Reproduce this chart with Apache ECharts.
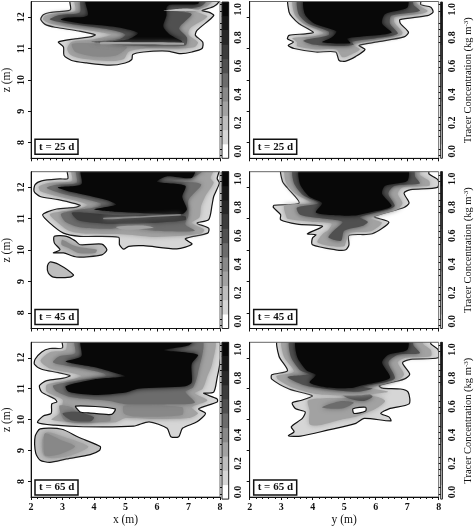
<!DOCTYPE html>
<html>
<head>
<meta charset="utf-8">
<script src="https://cdn.jsdelivr.net/npm/echarts@6/dist/echarts.min.js"></script>
<style>
  html, body { margin: 0; padding: 0; background: #fff; }
  #main { width: 474px; height: 527px; }
</style>
</head>
<body>
<div id="main"></div>
<script>
// colour bar
const levels = ['0.0', '0.1', '0.2', '0.3', '0.4', '0.5', '0.6', '0.7', '0.8', '0.9', '1.0'];
const levelColors = ['#ffffff', '#d6d6d6', '#bebebe', '#a2a2a2', '#888888', '#6c6c6c', '#505050', '#3c3c3c', '#282828', '#181818', '#080808'];

const zTicks = [8, 9, 10, 11, 12];
const zMinor = [7.6, 7.8, 8.2, 8.4, 8.6, 8.8, 9.2, 9.4, 9.6, 9.8, 10.2, 10.4, 10.6, 10.8, 11.2, 11.4, 11.6, 11.8, 12.2, 12.4];
const times = ['t = 25 d', 't = 45 d', 't = 65 d'];

// contour rings, [x or y (m), z (m)]
// panel A: x-z, t = 25 d
const a1 = [[3.26,12.6],[3.26,12.26],[3.19,12.21],[2.6,12.15],[2.39,12.08],[2.31,11.93],[2.45,11.77],[2.76,11.68],[3.51,11.56],[4.04,11.44],[3.88,11.37],[3.4,11.31],[2.87,11.21],[3.03,11.05],[3.05,10.78],[3.29,10.62],[3.77,10.54],[4.51,10.47],[4.99,10.54],[5.2,10.65],[5.23,10.81],[5.57,10.89],[6.32,10.92],[6.74,10.84],[7.11,10.89],[7.43,11],[7.45,11.21],[7.22,11.42],[7.27,11.58],[7.8,12.05],[7.64,12.16],[7.43,12.21],[7.8,12.34],[7.96,12.48],[7.96,12.6]];
const a2 = [[3.4,12.6],[3.4,12.2],[2.75,12.12],[2.45,12.05],[2.38,11.93],[2.6,11.8],[3.2,11.68],[4.2,11.52],[4.55,11.44],[4,11.3],[3.3,11.22],[3.15,11],[3.25,10.8],[3.6,10.68],[4.5,10.6],[4.95,10.67],[5.1,10.9],[5.6,11],[6.6,11],[7.2,11.05],[7.3,11.2],[7,11.45],[7.05,11.65],[7.6,12.02],[7.2,12.2],[7.6,12.35],[7.8,12.6]];
const a7 = [[3.3,11.15],[3.4,10.9],[4,10.75],[4.7,10.78],[5.05,11.05],[4.2,11.15]];
const a3 = [[3.6,12.6],[3.55,12.15],[2.9,12.07],[2.6,11.93],[3.2,11.8],[4.4,11.62],[5,11.45],[4.8,11.3],[3.9,11.22],[4.2,11.18],[5,11.1],[6.9,11.1],[6.95,11.35],[6.7,11.65],[7.1,12.1],[6.5,12.2],[7.4,12.35],[7.6,12.6]];
const a4 = [[3.75,12.6],[3.8,12.05],[3.1,11.98],[2.95,11.92],[3.6,11.8],[4.6,11.7],[5.4,11.5],[5.1,11.3],[4.4,11.22],[6,11.2],[6.8,11.22],[6.4,11.45],[6.2,11.7],[6.3,12.05],[6.3,12.3],[6.4,12.4],[7.3,12.42],[7.3,12.6]];
const a5 = [[4.2,11.14],[5.5,11.14],[6.85,11.12],[6.85,11.18],[5.5,11.2],[4.2,11.2]];
const a6 = [[6.2,12.21],[6.9,12.19],[7.4,12.21],[6.9,12.28]];
const panelA = [[1, a1, true], [3, a2], [4, a7], [6, a3], [10, a4], [3, a5], [2, a6]];

// panel B: y-z, t = 25 d
const b1 = [[3.25,12.6],[3.25,12.16],[3.35,12],[3.57,11.79],[4.02,11.52],[3.78,11.47],[3.25,11.42],[3.2,11.31],[3.39,11.21],[3.22,11.1],[3.41,11],[4.1,10.89],[4.73,10.89],[4.84,10.62],[5.05,10.6],[5.37,10.75],[5.66,10.97],[5.47,11.1],[6.05,11.21],[6.9,11.37],[7.04,11.52],[6.79,11.79],[6.77,11.92],[7.64,12.05],[7.82,12.16],[7.75,12.32],[7.43,12.4],[7.43,12.6]];
const b2 = [[3.4,12.6],[3.42,12.1],[3.7,11.8],[4.35,11.5],[4,11.38],[3.35,11.33],[3.5,11.2],[3.5,11.07],[4.1,10.97],[4.75,10.97],[4.95,10.72],[5.3,10.85],[5.5,10.98],[5.3,11.12],[6,11.27],[6.8,11.42],[6.85,11.52],[6.6,11.82],[6.6,12],[7.5,12.12],[7.65,12.2],[7.5,12.3],[7.3,12.45],[7.3,12.6]];
const b3 = [[3.55,12.6],[3.55,12.1],[3.85,11.8],[4.5,11.55],[4.5,11.42],[3.7,11.25],[4,11.13],[4.9,11.08],[5.3,11.12],[5.25,11.22],[6,11.33],[6.7,11.47],[6.45,11.8],[6.5,12.05],[7.4,12.2],[7.2,12.4],[7.15,12.6]];
const b4 = [[3.75,12.6],[3.75,12.1],[4.05,11.8],[4.75,11.55],[4.6,11.35],[4.3,11.2],[5.2,11.17],[5.1,11.32],[6.5,11.5],[6.2,11.8],[6.3,12.1],[7,12.3],[7,12.6]];
const panelB = [[1, b1, true], [3, b2], [6, b3], [10, b4]];

// panel C: x-z, t = 45 d
const c1 = [[3.17,12.6],[3.17,12.28],[2.92,12.27],[2.34,12.21],[2.13,12.09],[2.1,11.87],[2.29,11.71],[2.87,11.61],[3.56,11.43],[3.4,11.36],[2.82,11.31],[2.37,11.13],[2.6,10.86],[3.03,10.54],[3.56,10.44],[4.78,10.41],[4.81,10.17],[4.94,10.03],[5.1,10.12],[5.57,10.14],[6.63,10.04],[7.11,10.19],[6.9,10.36],[7.61,10.54],[7.64,10.7],[7.27,10.86],[7.64,10.97],[7.75,11.45],[7.8,11.71],[7.98,12.14],[7.91,12.28],[7.96,12.6]];
const c2 = [[3.3,12.6],[3.3,12.2],[2.6,12.15],[2.25,12.03],[2.3,11.88],[2.9,11.7],[3.8,11.45],[3.5,11.3],[2.6,11.15],[2.85,10.88],[3.2,10.62],[3.8,10.52],[5,10.5],[6,10.42],[7.4,10.52],[7.5,10.65],[7.1,10.87],[7.35,11.05],[7.4,11.4],[7.55,11.75],[7.8,12.15],[7.7,12.3],[7.8,12.6]];
const c3 = [[3.45,12.6],[3.45,12.15],[2.8,12.08],[2.5,11.98],[3,11.8],[4.2,11.5],[4.2,11.4],[3.3,11.25],[2.95,11.15],[3.1,10.9],[3.6,10.72],[4.5,10.68],[5,10.72],[5.6,10.65],[6.3,10.6],[7.2,10.62],[6.9,10.82],[7,11.1],[7,11.6],[7.4,12.1],[6.4,12.2],[7.2,12.35],[7.5,12.6]];
const c4 = [[3.3,11.2],[3.5,10.95],[4.3,10.85],[5.5,10.85],[6.9,10.95],[6.9,11.08],[4.6,11.12]];
const c5 = [[3.6,12.6],[3.6,12.1],[2.85,12],[3.3,11.85],[4.4,11.6],[4.7,11.45],[4,11.3],[4.7,11.22],[6.8,11.15],[6.95,11.3],[6.8,11.7],[6.9,12.05],[6,12.18],[6.3,12.35],[7.1,12.3],[7.2,12.6]];
const c6 = [[2.74,10.44],[3.13,10.44],[3.4,10.3],[3.56,10.17],[4.25,10.19],[4.41,10.01],[4.25,9.85],[3.45,9.78],[3.03,9.91],[2.71,9.91],[2.92,10.01],[2.74,10.23]];
const c7 = [[2.99,10.33],[3.3,10.17],[3.56,10.09],[4.09,10.01],[4.04,9.91],[3.51,9.91],[3.19,10.07],[2.97,10.17]];
const c8 = [[2.6,9.62],[2.87,9.55],[3.35,9.21],[3.24,9.14],[2.71,9.14],[2.55,9.27],[2.52,9.48]];
const c9 = [[4.3,10.98],[5.6,11.04],[6.75,11.1],[6.75,11.14],[5.6,11.09],[4.3,11.03]];
const c10 = [[4.7,10.74],[5.6,10.78],[5.9,10.72],[5.4,10.66],[4.9,10.66]];
const panelC = [[1, c1, true], [3, c2], [5, c3], [7, c4], [10, c5], [4, c9], [3, c10], [2, c6, true], [4, c7], [2, c8, true]];

// panel D: y-z, t = 45 d
const d1 = [[3.02,12.6],[3.04,12.19],[3.2,11.98],[3.57,11.5],[2.77,11.43],[2.75,11.36],[2.98,11.13],[2.98,10.97],[3.51,10.83],[4.31,10.76],[3.83,10.52],[4.1,10.49],[3.99,10.38],[3.99,10.17],[4.73,10.01],[5.05,10.01],[5.15,10.17],[5.15,10.47],[5.89,10.52],[6.42,10.89],[5.95,11.07],[6.9,11.36],[7.06,11.5],[6.9,11.82],[7.11,11.93],[7.96,12],[7.98,12.24],[7.69,12.43],[7.69,12.6]];
const d2 = [[3.15,12.6],[3.15,12.15],[3.45,11.8],[3.95,11.5],[3.1,11.42],[3.15,11.1],[3.2,11],[4,10.9],[4.6,10.85],[4.5,10.65],[4.3,10.5],[4.15,10.25],[4.6,10.12],[5,10.12],[5.05,10.25],[5.2,10.55],[5.85,10.6],[6.2,10.87],[5.85,11.02],[6.7,11.3],[6.85,11.5],[6.7,11.8],[6.85,12],[7.7,12.05],[7.7,12.2],[7.4,12.4],[7.4,12.6]];
const d3 = [[3.4,12.6],[3.4,12.15],[3.7,11.75],[4.2,11.5],[3.5,11.35],[3.6,11.13],[4.4,11],[4.95,10.9],[4.65,10.6],[4.5,10.4],[4.9,10.3],[5,10.62],[5.6,10.78],[5.75,10.9],[5.5,11.05],[6,11.2],[6.6,11.4],[6.4,11.8],[6.6,12.05],[7.4,12.12],[7.25,12.35],[7.2,12.6]];
const d4 = [[3.6,12.6],[3.6,12.1],[3.9,11.7],[4.3,11.5],[4.1,11.2],[4.6,11.12],[5.3,11.1],[5.8,11.2],[6.5,11.4],[6.2,11.8],[6.3,12.05],[7,12.2],[7,12.6]];
const panelD = [[1, d1, true], [3, d2], [6, d3], [10, d4]];

// panel E: x-z, t = 65 d
const e1 = [[3,12.6],[3,12.32],[2.6,12.3],[2.34,12.19],[2.13,11.95],[2.11,11.79],[2.34,11.63],[2.87,11.52],[3.24,11.42],[3.03,11.34],[2.5,11.26],[2.27,11.1],[2.34,10.89],[2.76,10.67],[2.82,10.57],[2.66,10.51],[2.64,10.2],[2.39,10.12],[2.21,9.91],[2.76,9.82],[3.66,9.77],[5.26,9.79],[5.75,9.93],[6.32,9.72],[6.44,9.45],[6.69,9.45],[6.81,9.72],[7.27,9.93],[7.54,10.2],[7.32,10.35],[7.91,10.57],[7.91,10.67],[7.48,10.85],[7.8,10.89],[7.91,11.36],[7.99,11.79],[8,12.6]];
const e2 = [[3.2,12.6],[3.1,12.25],[2.6,12.18],[2.3,11.9],[2.6,11.65],[3.4,11.48],[3.6,11.4],[3.1,11.25],[2.5,11.13],[2.5,10.9],[3,10.65],[3,10.5],[2.9,10.2],[2.65,10],[3.5,9.92],[4.7,9.92],[5,10.05],[6,10.02],[7,10.05],[7.3,10.2],[7.1,10.4],[7.6,10.62],[7.2,10.85],[7.45,11],[7.6,11.4],[7.75,11.8],[7.8,12.6]];
const e3 = [[2.9,10.45],[3.3,10.4],[3.5,10.2],[4.5,10.15],[4.5,9.95],[3.1,9.95]];
const e4 = [[3,10.2],[3.5,10.25],[4,10.08],[3.9,9.95],[3.3,9.97]];
const e5 = [[4.95,10.45],[6.8,10.4],[6.8,10.15],[5.3,10.1],[4.95,10.2]];
const e6 = [[3.4,12.6],[3.4,12.15],[2.9,12.05],[2.7,11.85],[3.4,11.7],[4.3,11.5],[4.4,11.4],[3.4,11.25],[2.7,11.1],[2.8,10.92],[3.3,10.72],[4.5,10.6],[5,10.5],[6.5,10.5],[7.2,10.55],[6.9,10.9],[7.15,11.05],[7.3,11.5],[7.4,12.6]];
const e7 = [[3.6,12.6],[3.6,12.05],[3.1,11.88],[4,11.7],[4.7,11.5],[5,11.4],[4,11.3],[3.1,11.08],[3.2,10.9],[4,10.8],[5,10.88],[5.4,11],[6.9,11.08],[7.1,11.2],[7.1,11.8],[7.3,12.1],[6.2,12.25],[7,12.4],[7.2,12.6]];
const e8 = [[3.42,10.44],[4.67,10.35],[4.56,10.17],[3.82,10.22],[3.56,10.25]];
const e9 = [[2.29,9.7],[2.98,9.69],[3.51,9.43],[4.2,9.13],[4.17,9],[3.88,8.87],[3.13,8.73],[2.6,8.62],[2.29,8.69],[2.15,8.92],[2.13,9.45]];
const e10 = [[2.5,9.59],[3.03,9.45],[3.82,9.13],[3.3,8.85],[2.7,8.75],[2.4,8.85],[2.35,9.3]];
const e11 = [[2.45,9.56],[2.93,9.35],[3.4,9.13],[2.88,8.87],[2.45,8.84],[2.4,9.24]];
const panelE = [[1, e1, true], [3, e2], [4, e3], [6, e4], [4, e5], [5, e6], [10, e7], [0, e8, true], [2, e9, true], [3, e10], [4, e11]];

// panel F: y-z, t = 65 d
const f1 = [[2.91,12.6],[2.93,12.05],[3.2,11.58],[2.7,11.45],[2.7,11.31],[3.25,10.99],[3.83,10.83],[3.99,10.76],[3.62,10.62],[3.35,10.54],[3.46,10.35],[3.76,10.25],[3.67,10.04],[3.32,9.77],[3.41,9.61],[3.23,9.48],[3.62,9.47],[4.47,9.66],[5.37,9.88],[5.63,10.04],[6.48,9.96],[6.42,10.09],[6.16,10.2],[6.42,10.35],[7.06,10.51],[7.03,10.89],[6.79,10.99],[6.21,11.02],[6.11,11.1],[6.9,11.31],[7.08,11.47],[6.85,11.84],[7.11,11.95],[7.98,12],[7.98,12.27],[7.75,12.45],[7.75,12.6]];
const f2 = [[3.85,10.62],[4.5,10.7],[5,10.7],[6,10.75],[6.3,10.6],[6,10.35],[5.4,10.1],[4.9,10],[4.2,9.82],[3.9,9.85],[3.9,10.3]];
const f3 = [[4.3,10.4],[4.9,10.6],[5.3,10.55],[5,10.38],[4.6,10.35]];
const f4 = [[4.9,10.85],[5.6,10.9],[5.9,10.75],[5.6,10.6],[5.1,10.7]];
const f5 = [[3.05,12.6],[3.08,12.05],[3.4,11.55],[2.85,11.42],[2.9,11.3],[3.4,11.02],[4.1,10.83],[5,10.78],[5.6,10.8],[6.4,10.9],[5.9,11.03],[6.75,11.3],[6.9,11.47],[6.7,11.85],[6.95,12],[7.75,12.05],[7.75,12.25],[7.5,12.45],[7.5,12.6]];
const f6 = [[3.3,12.6],[3.3,12.05],[3.6,11.6],[3.9,11.47],[3.2,11.38],[3.7,11.12],[4.4,11],[5.4,10.9],[5.9,11],[5.6,11.07],[6.6,11.32],[6.4,11.85],[6.7,12.1],[7.4,12.15],[7.2,12.4],[7.15,12.6]];
const f7 = [[3.5,12.6],[3.5,12.05],[3.8,11.6],[4.1,11.45],[3.9,11.2],[4.4,11.05],[5.2,11.02],[5.6,11.12],[6.45,11.35],[6.2,11.85],[6.4,12.1],[7,12.25],[7,12.6]];
const f8 = [[5.28,10.35],[5.68,10.4],[5.68,10.28],[5.31,10.2]];
const panelF = [[1, f1, true], [3, f2], [5, f3], [6, f4], [3, f5], [6, f6], [10, f7], [0, f8, true]];

const panels = [panelA, panelB, panelC, panelD, panelE, panelF];

const myChart = echarts.init(document.getElementById('main'));
const font = '"Liberation Serif", serif';
const colX = [31, 249.7];
const rowY = [1.5, 171.7, 342.3];
const plotW = 189, plotH = 156.8;
const grid = [], xAxis = [], yAxis = [], series = [], title = [];

panels.forEach((shapes, i) => {
  const col = i % 2, row = Math.floor(i / 2), bottom = row === 2;
  const left = colX[col], top = rowY[row];

  // contour plot
  grid.push({ left, top, width: plotW, height: plotH, show: true, z: 5, borderColor: '#666', borderWidth: 1 });
  const g = grid.length - 1;
  xAxis.push({
    gridIndex: g, type: 'value', min: 2, max: 8, interval: 1, z: 6,
    name: bottom ? (col ? 'y (m)' : 'x (m)') : '', nameLocation: 'middle', nameGap: 17,
    nameTextStyle: { fontFamily: font, fontSize: 11.5, color: '#111' },
    axisLine: { lineStyle: { color: '#111', width: 1 } },
    axisTick: { length: 3, lineStyle: { color: '#111' } },
    minorTick: { show: true, splitNumber: 5, length: 2, lineStyle: { color: '#111' } },
    splitLine: { show: false },
    axisLabel: { show: bottom, margin: 5, fontFamily: font, fontSize: 10, fontWeight: 'bold', color: '#111' }
  });
  const plotX = xAxis.length - 1;
  yAxis.push({
    gridIndex: g, type: 'value', min: 7.5, max: 12.5, z: 6,
    name: col ? '' : 'z (m)', nameLocation: 'middle', nameRotate: 90, nameGap: 18,
    nameTextStyle: { fontFamily: font, fontSize: 11.5, color: '#111' },
    axisLine: { show: true, lineStyle: { color: '#111', width: 1 } },
    axisTick: { show: true, length: 3, customValues: zTicks, lineStyle: { color: '#111' } },
    splitLine: { show: false },
    axisLabel: { show: !col, rotate: 90, margin: 5, customValues: zTicks, fontFamily: font, fontSize: 10, fontWeight: 'bold', color: '#111' }
  });
  const plotY = yAxis.length - 1;
  // second axis only carries the small ticks
  yAxis.push({
    gridIndex: g, type: 'value', min: 7.5, max: 12.5, z: 6,
    axisLine: { show: false },
    axisTick: { show: true, length: 2, customValues: zMinor, lineStyle: { color: '#111' } },
    axisLabel: { show: false },
    splitLine: { show: false }
  });

  series.push({
    type: 'custom',
    xAxisIndex: plotX,
    yAxisIndex: plotY,
    clip: true,
    silent: true,
    data: shapes.map((s, k) => [k]),
    renderItem: (params, api) => {
      const [level, ring, outlined] = shapes[params.dataIndex];
      const soft = level >= 3 && !outlined;
      return {
        type: 'polygon',
        shape: { points: ring.map(p => api.coord(p)), smooth: 0.25 },
        style: {
          fill: levelColors[level],
          stroke: outlined ? '#111' : null,
          lineWidth: 1.2,
          // soften the inner bands the way the printed contours fade
          shadowBlur: soft ? 5 : 0,
          shadowColor: soft ? levelColors[level] : 'transparent'
        }
      };
    }
  });

  // colour bar
  grid.push({ left: left + plotW + 2, top, width: 6.7, height: plotH, show: true, z: 5, borderColor: '#222', borderWidth: 1 });
  const b = grid.length - 1;
  xAxis.push({ gridIndex: b, type: 'category', data: [''], show: false });
  const barX = xAxis.length - 1;
  yAxis.push({
    gridIndex: b, type: 'category', data: levels, position: 'right',
    name: col ? 'Tracer Concentration (kg m{sup|-3})' : '',
    nameLocation: 'middle', nameRotate: 90, nameGap: 20,
    nameTextStyle: { fontFamily: font, fontSize: 10.5, color: '#111', rich: { sup: { fontFamily: font, fontSize: 7, verticalAlign: 'top', color: '#111' } } },
    axisLine: { show: false },
    axisTick: { show: false },
    splitLine: { show: false },
    axisLabel: { interval: 1, rotate: 90, margin: 5, fontFamily: font, fontSize: 10, fontWeight: 'bold', color: '#111' }
  });
  const barY = yAxis.length - 1;
  series.push({
    type: 'heatmap',
    xAxisIndex: barX,
    yAxisIndex: barY,
    silent: true,
    data: levels.map((l, k) => ({ value: [0, k, +l], itemStyle: { color: levelColors[k] } }))
  });

  // time label
  title.push({
    text: times[row],
    left: left + 4,
    top: top + plotH - 19,
    z: 8,
    padding: [2, 4],
    borderColor: '#111',
    borderWidth: 1.5,
    backgroundColor: '#fff',
    textStyle: { fontFamily: font, fontSize: 11, fontWeight: 'bold', color: '#111' }
  });
});

const option = { animation: false, title, grid, xAxis, yAxis, series };
myChart.setOption(option);
</script>
</body>
</html>
